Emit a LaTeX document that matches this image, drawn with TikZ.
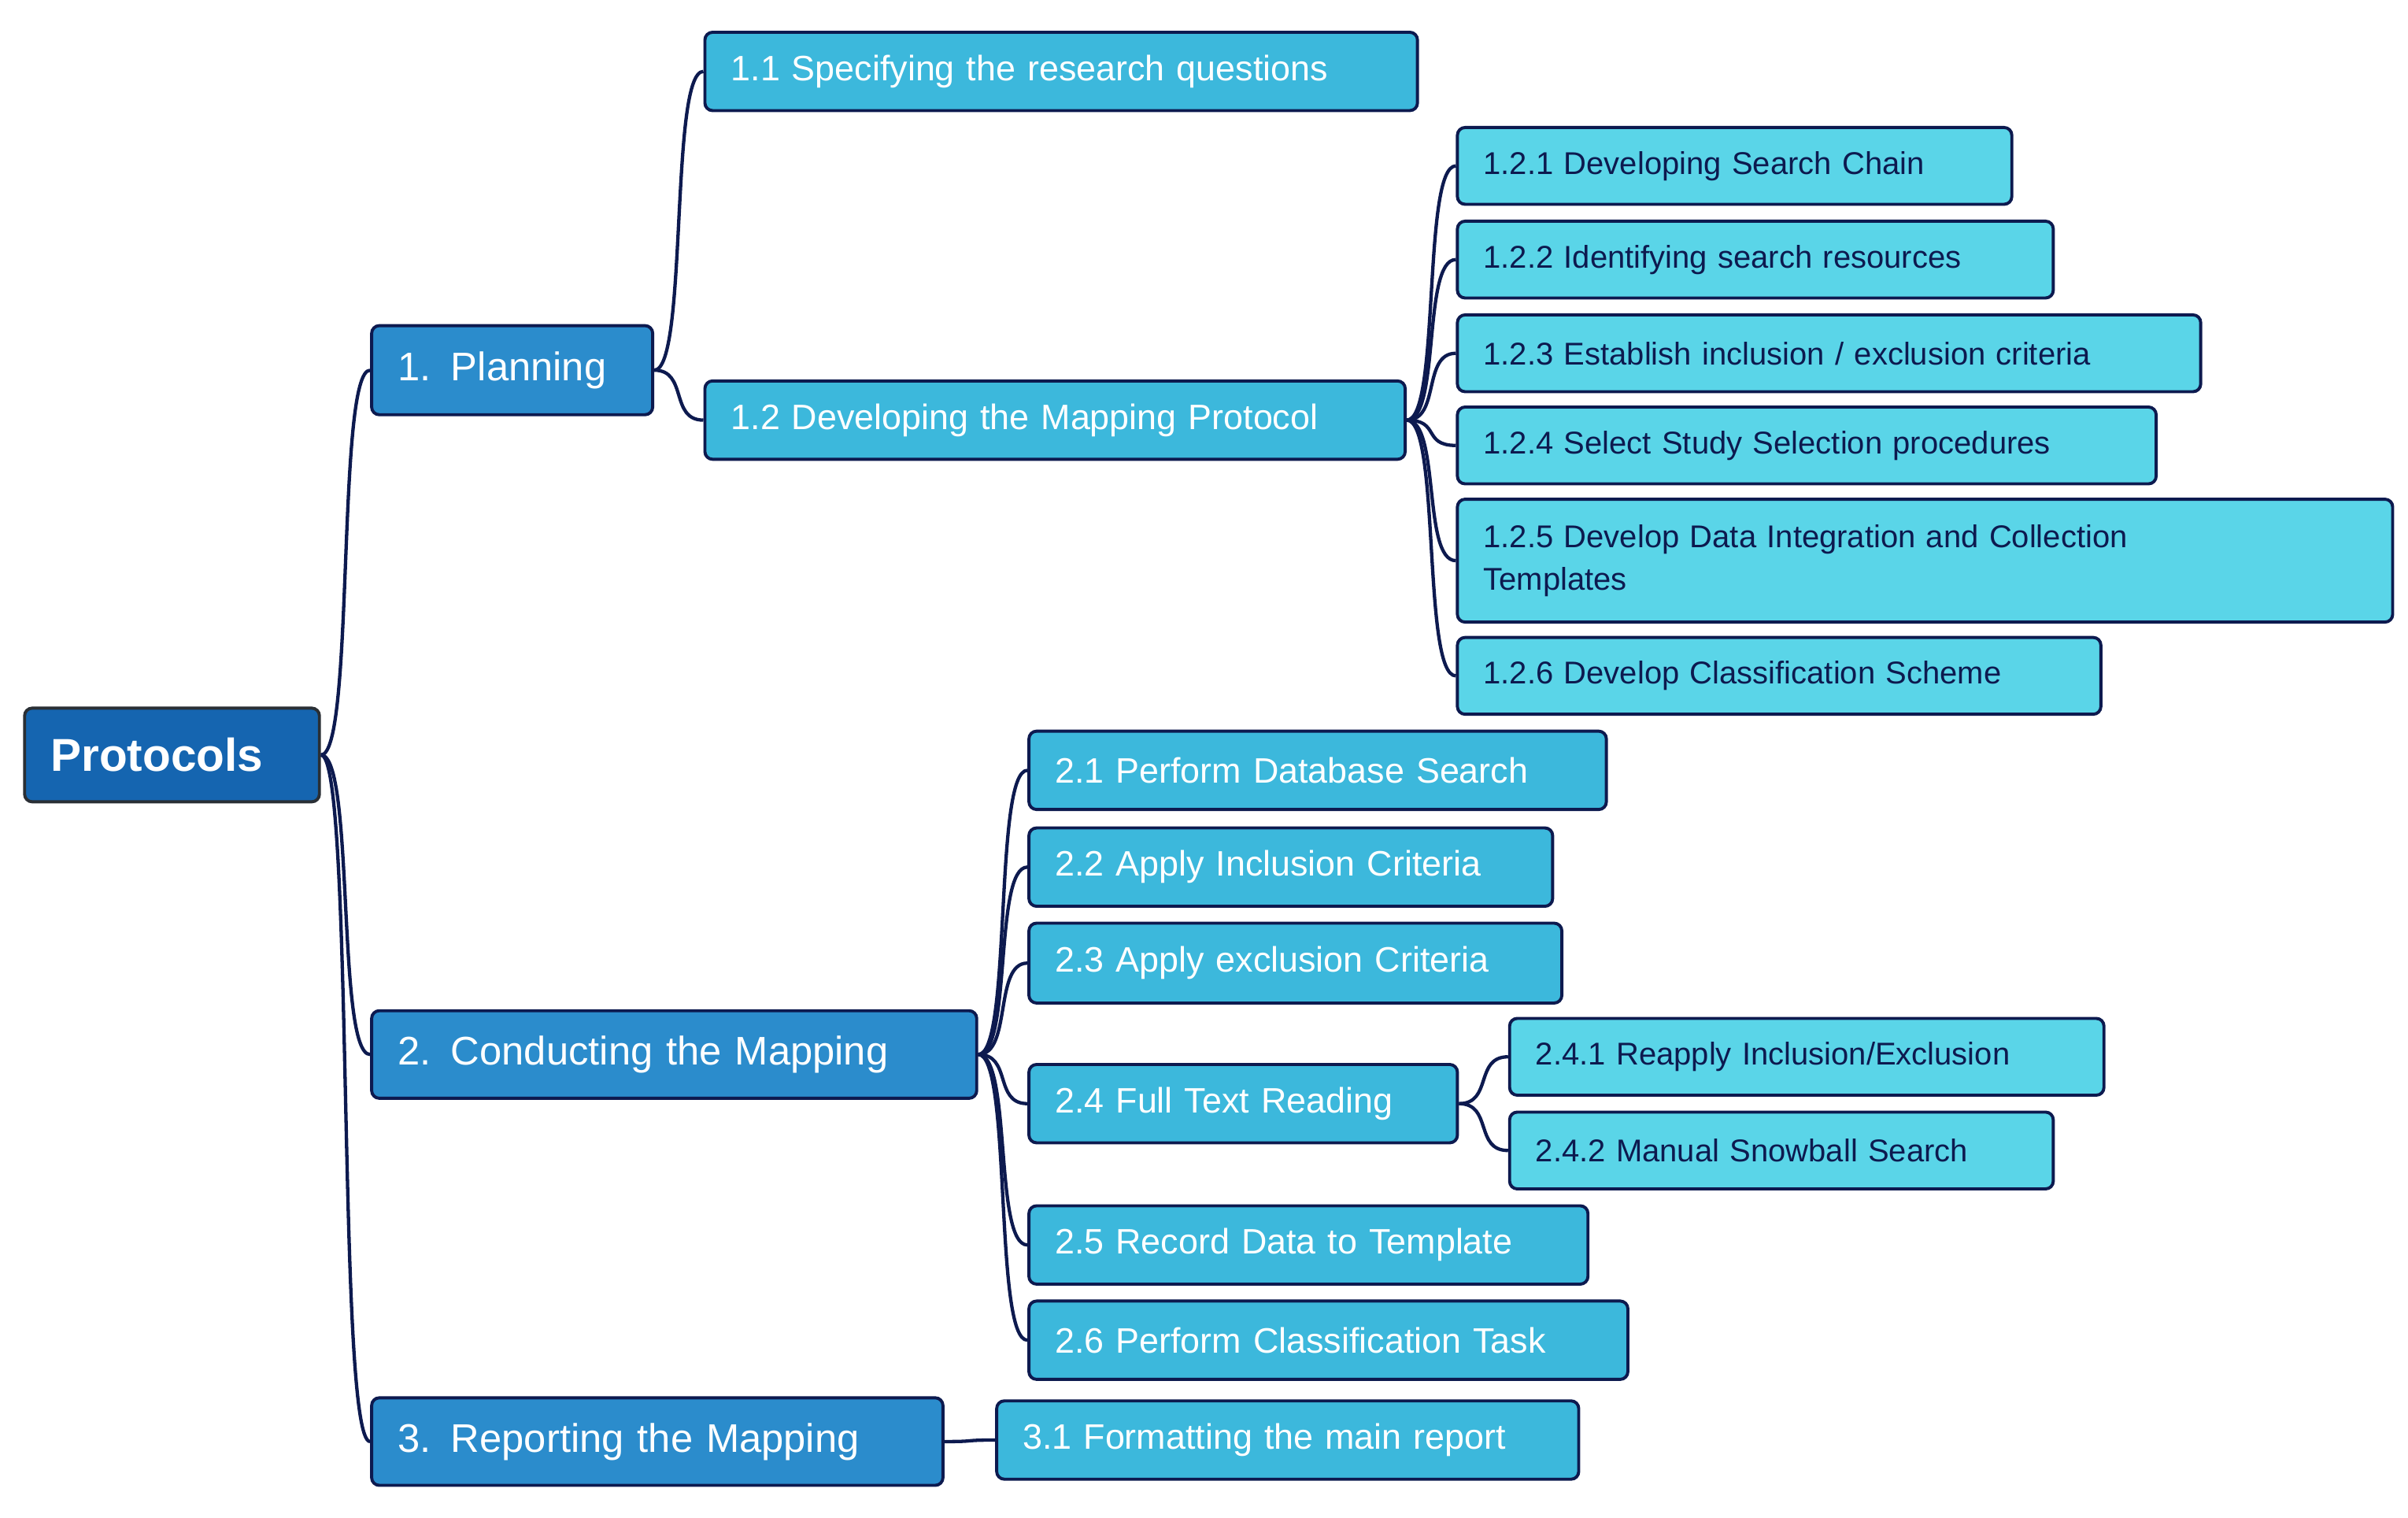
\documentclass[tikz,border=0pt]{standalone}
\usepackage{fontspec}
\setmainfont{Liberation Sans}
\begin{document}
\begin{tikzpicture}[x=1pt,y=-1pt,
 box/.style={draw=navy,line width=2pt,rounded corners=5pt,anchor=north west,inner sep=0pt,inner xsep=17pt,align=left},
 root/.style={box,fill=c0,draw=rootb,text=white,font=\fontsize{30}{34}\selectfont\bfseries},
 l1/.style={box,fill=c1,text=white,font=\fontsize{26}{30}\selectfont},
 l2/.style={box,fill=c2,text=white,font=\fontsize{23}{27}\selectfont},
 l3/.style={box,fill=c3,text=navy,font=\fontsize{20.5}{28}\selectfont},
 ed/.style={draw=navy,line width=2.2pt}]
\definecolor{navy}{HTML}{0D1A4F}
\definecolor{rootb}{HTML}{2A2F35}
\definecolor{c0}{HTML}{1565B0}
\definecolor{c1}{HTML}{2B8CCC}
\definecolor{c2}{HTML}{3CB8DC}
\definecolor{c3}{HTML}{5AD5E8}
\useasboundingbox (0,0) rectangle (1568,988);
\newcommand\bx[7]{\node[#1,text width={#4-#2-34},minimum height={#5-#3}] (#6) at (#2,#3) {#7};}
\bx{root}{15}{460}{207}{521}{r}{Protocols}
\bx{l1}{241}{211}{424}{269}{p}{1. Planning}
\bx{l1}{241}{657}{635}{714}{c}{2. Conducting the Mapping}
\bx{l1}{241}{909}{613}{966}{rp}{3. Reporting the Mapping}
\bx{l2}{458}{20}{922}{71}{a11}{1.1 Specifying the research questions}
\bx{l2}{458}{247}{914}{298}{a12}{1.2 Developing the Mapping Protocol}
\bx{l3}{948}{82}{1309}{132}{b1}{1.2.1 Developing Search Chain}
\bx{l3}{948}{143}{1336}{193}{b2}{1.2.2 Identifying search resources}
\bx{l3}{948}{204}{1432}{254}{b3}{1.2.3 Establish inclusion / exclusion criteria}
\bx{l3}{948}{264}{1403}{314}{b4}{1.2.4 Select Study Selection procedures}
\bx{l3}{948}{324}{1557}{404}{b5}{1.2.5 Develop Data Integration and Collection\\Templates}
\bx{l3}{948}{414}{1367}{464}{b6}{1.2.6 Develop Classification Scheme}
\bx{l2}{669}{475}{1045}{526}{d1}{2.1 Perform Database Search}
\bx{l2}{669}{538}{1010}{589}{d2}{2.2 Apply Inclusion Criteria}
\bx{l2}{669}{600}{1016}{652}{d3}{2.3 Apply exclusion Criteria}
\bx{l2}{669}{692}{948}{743}{d4}{2.4 Full Text Reading}
\bx{l3}{982}{662}{1369}{712}{e1}{2.4.1 Reapply Inclusion/Exclusion}
\bx{l3}{982}{723}{1336}{773}{e2}{2.4.2 Manual Snowball Search}
\bx{l2}{669}{784}{1033}{835}{d5}{2.5 Record Data to Template}
\bx{l2}{669}{846}{1059}{897}{d6}{2.6 Perform Classification Task}
\bx{l2}{648}{911}{1027}{962}{f1}{3.1 Formatting the main report}
\begin{scope}[on background layer/.try]
\foreach \a/\b in {r/p,r/c,r/rp,p/a11,p/a12,a12/b1,a12/b2,a12/b3,a12/b4,a12/b5,a12/b6,c/d1,c/d2,c/d3,c/d4,c/d5,c/d6,d4/e1,d4/e2,rp/f1}
  \draw[ed] (\a.east) .. controls +(22,0) and +(-22,0) .. (\b.west);
\end{scope}
\end{tikzpicture}
\end{document}
